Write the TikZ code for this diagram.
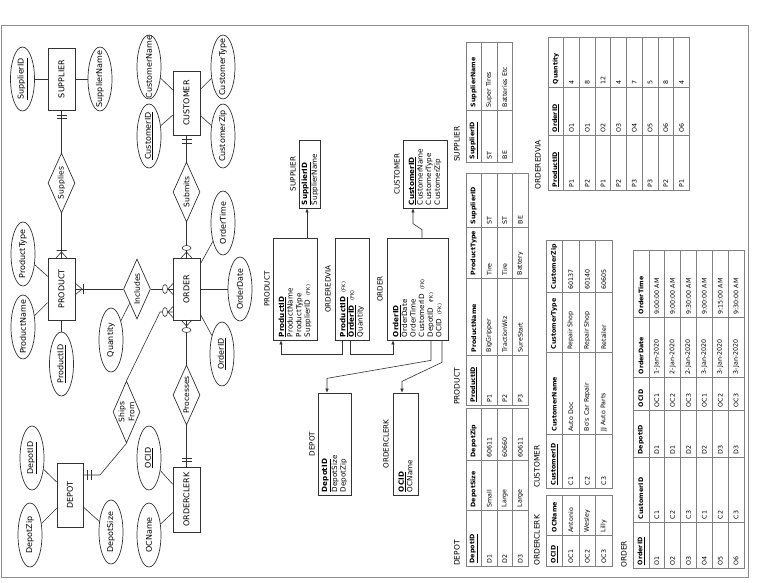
\documentclass[tikz,border=0pt]{standalone}
\usepackage{fontspec}
\setmainfont{DejaVu Sans}
\usetikzlibrary{shapes.geometric,arrows.meta}
\newcommand{\R}[1]{\rotatebox{90}{#1}}
\newcommand{\hd}[1]{\textbf{#1}}
\newcommand{\fk}{\ \ {\fontsize{5}{6}\selectfont(FK)}}
\newcommand{\rtext}[2]{\rotatebox{90}{\parbox{#1}{\raggedright #2}}}
\tikzset{
 ln/.style={draw=black!80, line width=0.6pt},
 ent/.style={draw=black!80, line width=0.7pt, rectangle, inner sep=0pt, font=\fontsize{8}{9}\selectfont},
 attr/.style={draw=black!80, line width=0.7pt, ellipse, inner sep=0pt, minimum width=24pt, minimum height=64pt},
 rel/.style={draw=black!80, line width=0.7pt, diamond, inner sep=0pt, minimum width=27pt, minimum height=60pt},
 txt/.style={inner sep=0pt, font=\fontsize{8}{9}\selectfont},
 rbox/.style={draw=black!80, line width=0.7pt, inner sep=0pt, font=\fontsize{7.2}{8.6}\selectfont},
 rlab/.style={inner sep=0pt, font=\fontsize{7.2}{8.6}\selectfont},
 cell/.style={rotate=90, anchor=west, inner sep=0pt, font=\fontsize{6.3}{7}\selectfont},
 tlab/.style={rotate=90, anchor=west, inner sep=0pt, font=\fontsize{7.5}{9}\selectfont},
 tgrid/.style={draw=black!50, line width=0.7pt},
 arr/.style={draw=black!80, line width=0.6pt, -{Latex[length=4pt,width=3.5pt]}},
 mk/.style={draw=black!80, line width=0.6pt, fill=white},
}
\newcommand{\attrnode}[3]{\node[attr] (#1) at (#2) {}; \node[txt] (#1-t) at (#1.center) {\R{#3}};}
\newcommand{\relnode}[3]{\node[rel] (#1) at (#2) {}; \node[txt, font=\fontsize{7.6}{8.4}\selectfont] (#1-t) at (#1.center) {\R{#3}};}
\begin{document}
\begin{tikzpicture}[x=1pt,y=-1pt]
\useasboundingbox (0,0) rectangle (760,582);
\fill[white] (0,0) rectangle (760,582);
\draw[draw=black!45, line width=0.9pt] (1.5,25) rectangle (748,577);

% ---------------- ER diagram ----------------
\node[ent, minimum width=27pt, minimum height=62pt] (sup) at (61.5,79) {\R{SUPPLIER}};
\attrnode{supid}{22.5,79}{\underline{SupplierID}}
\attrnode{supname}{100,79}{SupplierName}
\relnode{supplies}{61.5,183}{Supplies}

\node[ent, minimum width=27pt, minimum height=64pt] (cust) at (186.5,103) {\R{CUSTOMER}};
\attrnode{custname}{149,67}{CustomerName}
\attrnode{custid}{149,136}{\underline{CustomerID}}
\attrnode{custtype}{223,67}{CustomerType}
\attrnode{custzip}{223,136}{CustomerZip}
\relnode{submits}{186.5,192}{Submits}

\node[ent, minimum width=27pt, minimum height=62pt] (prod) at (61.5,289) {\R{PRODUCT}};
\attrnode{prodtype}{23,254}{ProductType}
\attrnode{prodname}{23,327}{ProductName}
\attrnode{prodid}{61.5,364}{\underline{ProductID}}
\relnode{incl}{137,289}{Includes}
\attrnode{qty}{111,340}{Quantity}

\node[ent, minimum width=27pt, minimum height=62pt] (ord) at (186.5,289) {\R{ORDER}};
\attrnode{ordtime}{223,223}{OrderTime}
\attrnode{orddate}{240,289}{OrderDate}
\attrnode{ordid}{222,354}{\underline{OrderID}}

\node[rel, minimum height=62pt] (ships) at (126.5,412) {};
\node[txt, font=\fontsize{7.6}{8.4}\selectfont] (ships-t) at (ships.center) {\R{\shortstack{Ships\\From}}};
\relnode{proc}{186.5,395}{Processes}

\node[ent, minimum width=26pt, minimum height=64pt] (dep) at (70,495) {\R{DEPOT}};
\attrnode{depid}{32,458}{\underline{DepotID}}
\attrnode{depzip}{30,535}{DepotZip}
\attrnode{depsize}{111,532}{DepotSize}

\node[ent, minimum width=27pt, minimum height=65pt] (clerk) at (186.5,499.5) {\R{ORDERCLERK}};
\attrnode{ocid}{149,458}{\underline{OCID}}
\attrnode{ocname}{149,535}{OCName}

% connectors
\draw[ln] (supid) -- (sup);
\draw[ln] (sup) -- (supname);
\draw[ln] (sup) -- (supplies);
\draw[ln] (supplies) -- (prod);
\draw[ln] (custname) -- (cust);
\draw[ln] (custid) -- (cust);
\draw[ln] (cust) -- (custtype);
\draw[ln] (cust) -- (custzip);
\draw[ln] (cust) -- (submits);
\draw[ln] (submits) -- (ord);
\draw[ln] (prodtype) -- (prod);
\draw[ln] (prodname) -- (prod);
\draw[ln] (prodid) -- (prod);
\draw[ln] (prod) -- (incl);
\draw[ln] (incl) -- (ord);
\draw[ln] (qty) -- (incl);
\draw[ln] (ordtime) -- (ord);
\draw[ln] (orddate) -- (ord);
\draw[ln] (ordid) -- (ord);
\draw[ln] (ord) -- (proc);
\draw[ln] (proc) -- (clerk);
\draw[ln] ([yshift=-23pt]ord.west) -- (160,312) -- (ships.north);
\draw[ln] (ships.south) -- (100,475) -- ([yshift=20pt]dep.east);
\draw[ln] (depid) -- (dep);
\draw[ln] (depzip) -- (dep);
\draw[ln] (dep) -- (depsize);
\draw[ln] (ocid) -- (clerk);
\draw[ln] (ocname) -- (clerk);

% cardinality marks
\draw[ln] (56.5,115) -- (66.5,115) (56.5,118.5) -- (66.5,118.5);
\draw[ln] (56,258) -- (61.5,252) -- (67,258) (56.5,250.5) -- (66.5,250.5);
\draw[ln] (181.5,139.5) -- (191.5,139.5) (181.5,143) -- (191.5,143);
\draw[ln] (181,258) -- (186.5,252) -- (192,258);
\draw[mk] (186.5,248) ellipse [x radius=4.5, y radius=2.5];
\draw[ln] (75,283) -- (82,289) -- (75,295) (83.5,284) -- (83.5,294);
\draw[ln] (173,283.5) -- (168,289) -- (173,294.5);
\draw[mk] (165,289) ellipse [x radius=2.5, y radius=4.5];
\draw[ln] (173,306.5) -- (168,312) -- (173,317.5);
\draw[mk] (165,312) ellipse [x radius=2.5, y radius=4.5];
\draw[ln] (181,320) -- (186.5,326) -- (192,320);
\draw[mk] (186.5,330) ellipse [x radius=4.5, y radius=2.5];
\draw[ln] (181.5,458) -- (191.5,458) (181.5,461.5) -- (191.5,461.5);
\draw[ln] (87.5,470) -- (87.5,480) (91,470) -- (91,480);

% ---------------- relational schema ----------------
\node[rbox, minimum width=44pt, minimum height=102pt] (rprod) at (295,289)
  {\rtext{96pt}{\textbf{\underline{ProductID}}\\ProductName\\ProductType\\SupplierID\fk}};
\node[rbox, minimum width=34pt, minimum height=102pt] (rov) at (352,289)
  {\rtext{96pt}{\textbf{\underline{ProductID}}\fk\\\textbf{\underline{OrderID}}\fk\\Quantity}};
\node[rbox, minimum width=61pt, minimum height=102pt] (rord) at (417.5,289)
  {\rtext{96pt}{\textbf{\underline{OrderID}}\\OrderDate\\OrderTime\\CustomerID\fk\\DepotID\fk\\OCID\fk}};
\node[rbox, minimum width=21pt, minimum height=68pt] (rsup) at (310,174)
  {\rtext{62pt}{\textbf{\underline{SupplierID}}\\SupplierName}};
\node[rbox, minimum width=44pt, minimum height=68pt] (rcust) at (425,174)
  {\rtext{62pt}{\textbf{\underline{CustomerID}}\\CustomerName\\CustomerType\\CustomerZip}};
\node[rbox, minimum width=33pt, minimum height=102pt] (rdep) at (334.5,444)
  {\rtext{96pt}{\textbf{\underline{DepotID}}\\DepotSize\\DepotZip}};
\node[rbox, minimum width=25pt, minimum height=102pt] (rclerk) at (405.5,444)
  {\rtext{96pt}{\textbf{\underline{OCID}}\\OCName}};

\node[rlab] (l-rprod) at (267,289) {\R{PRODUCT}};
\node[rlab] (l-rov) at (328,289) {\R{ORDEREDVIA}};
\node[rlab] (l-rord) at (380,289) {\R{ORDER}};
\node[rlab] (l-rsup) at (293,174) {\R{SUPPLIER}};
\node[rlab] (l-rcust) at (397,174) {\R{CUSTOMER}};
\node[rlab] (l-rdep) at (312,444) {\R{DEPOT}};
\node[rlab] (l-rclerk) at (386,444) {\R{ORDERCLERK}};

\draw[arr] ([xshift=12pt]rprod.north) -- ([xshift=12pt]rprod.north |- rsup.south);
\draw[arr] ([xshift=-10pt]rov.south) -- ++(0,14) -| ([xshift=-14pt]rprod.south);
\draw[arr] ([xshift=-2pt]rov.south) -- ++(0,14) -| ([xshift=-24.5pt]rord.south);
\draw[arr] ([xshift=4.5pt]rord.north) -- ++(0,-8) -- ++(-9,-6) -- ([xshift=-12pt]rcust.south);
\draw[arr] ([xshift=13.5pt]rord.south) -- ++(0,20) -- ++(-104,18) -- ([xshift=-7.5pt]rdep.north);
\draw[arr] ([xshift=24.5pt]rord.south) -- ++(0,22) -- ++(-40,19) -- ([xshift=-3.5pt]rclerk.north);

% ---------------- data tables ----------------
% DEPOT
\node[tlab] (tl-dep) at (457,566) {DEPOT};
\draw[tgrid] (466,408) rectangle (528,566);
\foreach \xx in {481.5,497,512.5} {\draw[tgrid] (\xx,408) -- (\xx,566);}
\foreach \yy in {460,510} {\draw[tgrid] (466,\yy) -- (528,\yy);}
\foreach \a/\b/\c [count=\k from 0] in {{\hd{\underline{DepotID}}}/{\hd{DepotSize}}/{\hd{DepotZip}},D1/Small/60611,D2/Large/60660,D3/Large/60611}{
  \node[cell] (dep-\k-a) at ({466+15.5*(\k+0.5)},563.5) {\a};
  \node[cell] (dep-\k-b) at ({466+15.5*(\k+0.5)},507.5) {\b};
  \node[cell] (dep-\k-c) at ({466+15.5*(\k+0.5)},457.5) {\c};
}
% PRODUCT
\node[tlab] (tl-prod) at (457,405) {PRODUCT};
\draw[tgrid] (466,173) rectangle (528,405);
\foreach \xx in {481.5,497,512.5} {\draw[tgrid] (\xx,173) -- (\xx,405);}
\foreach \yy in {227,278,355} {\draw[tgrid] (466,\yy) -- (528,\yy);}
\foreach \a/\b/\c/\d [count=\k from 0] in {{\hd{\underline{ProductID}}}/{\hd{ProductName}}/{\hd{ProductType}}/{\hd{SupplierID}},P1/BigGripper/Tire/ST,P2/TractionWiz/Tire/ST,P3/SureStart/Battery/BE}{
  \node[cell] (pr-\k-a) at ({466+15.5*(\k+0.5)},402.5) {\a};
  \node[cell] (pr-\k-b) at ({466+15.5*(\k+0.5)},352.5) {\b};
  \node[cell] (pr-\k-c) at ({466+15.5*(\k+0.5)},275.5) {\c};
  \node[cell] (pr-\k-d) at ({466+15.5*(\k+0.5)},224.5) {\d};
}
% SUPPLIER
\node[tlab] (tl-sup) at (457,162) {SUPPLIER};
\draw[tgrid] (466,42) rectangle (512.5,162);
\foreach \xx in {481.5,497} {\draw[tgrid] (\xx,42) -- (\xx,162);}
\draw[tgrid] (466,110) -- (512.5,110);
\foreach \a/\b [count=\k from 0] in {{\hd{\underline{SupplierID}}}/{\hd{SupplierName}},ST/Super Tires,BE/Batteries Etc}{
  \node[cell] (su-\k-a) at ({466+15.5*(\k+0.5)},159.5) {\a};
  \node[cell] (su-\k-b) at ({466+15.5*(\k+0.5)},107.5) {\b};
}
% ORDERCLERK
\node[tlab] (tl-clerk) at (537,566) {ORDERCLERK};
\draw[tgrid] (546,495) rectangle (612,566);
\foreach \xx in {562.5,579,595.5} {\draw[tgrid] (\xx,495) -- (\xx,566);}
\draw[tgrid] (546,535) -- (612,535);
\foreach \a/\b [count=\k from 0] in {{\hd{\underline{OCID}}}/{\hd{OCName}},OC1/Antonio,OC2/Wesley,OC3/Lilly}{
  \node[cell] (oc-\k-a) at ({546+16.5*(\k+0.5)},563.5) {\a};
  \node[cell] (oc-\k-b) at ({546+16.5*(\k+0.5)},532.5) {\b};
}
% CUSTOMER
\node[tlab] (tl-cust) at (537,488) {CUSTOMER};
\draw[tgrid] (546,240) rectangle (612,488);
\foreach \xx in {562.5,579,595.5} {\draw[tgrid] (\xx,240) -- (\xx,488);}
\foreach \yy in {292,352,434} {\draw[tgrid] (546,\yy) -- (612,\yy);}
\foreach \a/\b/\c/\d [count=\k from 0] in {{\hd{\underline{CustomerID}}}/{\hd{CustomerName}}/{\hd{CustomerType}}/{\hd{CustomerZip}},C1/Auto Doc/Repair Shop/60137,C2/Bo's Car Repair/Repair Shop/60140,C3/JJ Auto Parts/Retailer/60605}{
  \node[cell] (cu-\k-a) at ({546+16.5*(\k+0.5)},485.5) {\a};
  \node[cell] (cu-\k-b) at ({546+16.5*(\k+0.5)},431.5) {\b};
  \node[cell] (cu-\k-c) at ({546+16.5*(\k+0.5)},349.5) {\c};
  \node[cell] (cu-\k-d) at ({546+16.5*(\k+0.5)},289.5) {\d};
}
% ORDEREDVIA
\node[tlab] (tl-ov) at (538,190) {ORDEREDVIA};
\draw[tgrid] (548,37) rectangle (689.3,190);
\foreach \k in {1,...,8} {\draw[tgrid] ({548+15.7*\k},37) -- ({548+15.7*\k},190);}
\foreach \yy in {87,135} {\draw[tgrid] (548,\yy) -- (689.3,\yy);}
\foreach \a/\b/\c [count=\k from 0] in {{\hd{\underline{ProductID}}}/{\hd{\underline{OrderID}}}/{\hd{Quantity}},P1/O1/4,P2/O1/8,P1/O2/12,P2/O3/4,P3/O4/7,P3/O5/5,P2/O6/8,P1/O6/4}{
  \node[cell] (ov-\k-a) at ({548+15.7*(\k+0.5)},187.5) {\a};
  \node[cell] (ov-\k-b) at ({548+15.7*(\k+0.5)},132.5) {\b};
  \node[cell] (ov-\k-c) at ({548+15.7*(\k+0.5)},84.5) {\c};
}
% ORDER
\node[tlab] (tl-ord) at (624,568) {ORDER};
\draw[tgrid] (633,250) rectangle (744,568);
\foreach \k in {1,...,6} {\draw[tgrid] ({633+15.857*\k},250) -- ({633+15.857*\k},568);}
\foreach \yy in {317,377,410,457,522} {\draw[tgrid] (633,\yy) -- (744,\yy);}
\foreach \a/\b/\c/\d/\e/\f [count=\k from 0] in {{\hd{\underline{OrderID}}}/{\hd{CustomerID}}/{\hd{DepotID}}/{\hd{OCID}}/{\hd{OrderDate}}/{\hd{OrderTime}},O1/C1/D1/OC1/1-Jan-2020/9:00:00 AM,O2/C2/D1/OC2/2-Jan-2020/9:00:00 AM,O3/C3/D2/OC3/2-Jan-2020/9:30:00 AM,O4/C1/D2/OC1/3-Jan-2020/9:00:00 AM,O5/C2/D3/OC2/3-Jan-2020/9:15:00 AM,O6/C3/D3/OC3/3-Jan-2020/9:30:00 AM}{
  \node[cell] (or-\k-a) at ({633+15.857*(\k+0.5)},565.5) {\a};
  \node[cell] (or-\k-b) at ({633+15.857*(\k+0.5)},519.5) {\b};
  \node[cell] (or-\k-c) at ({633+15.857*(\k+0.5)},454.5) {\c};
  \node[cell] (or-\k-d) at ({633+15.857*(\k+0.5)},407.5) {\d};
  \node[cell] (or-\k-e) at ({633+15.857*(\k+0.5)},374.5) {\e};
  \node[cell] (or-\k-f) at ({633+15.857*(\k+0.5)},314.5) {\f};
}
\end{tikzpicture}
\end{document}
